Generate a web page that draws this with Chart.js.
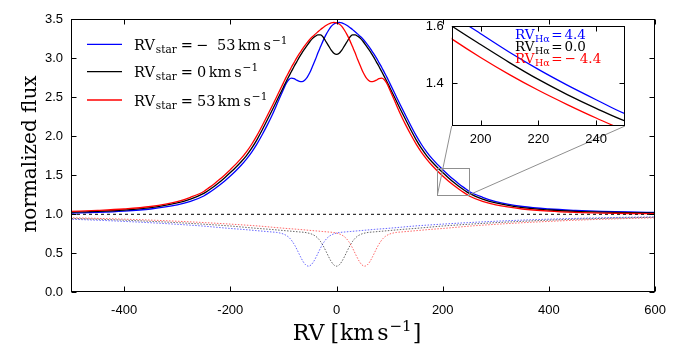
<!DOCTYPE html>
<html><head><meta charset="utf-8">
<script src="https://cdn.jsdelivr.net/npm/chart.js@4.4.1/dist/chart.umd.min.js"></script>
<style>
html,body{margin:0;padding:0;background:#fff;}
#wrap{position:relative;width:676px;height:353px;overflow:hidden;}
#main{position:absolute;left:0;top:0;}
#inset{position:absolute;left:415px;top:10px;}
</style></head><body>
<div id="wrap"><canvas id="main" width="676" height="353"></canvas><canvas id="inset" width="220" height="145"></canvas></div>
<script>
// ---------- DATA ----------
const rvGrid = [-500,-450,-400,-350,-300,-275,-250,-240,-230,-220,-210,-200,-190,-180,-170,-160,-150,-140,-130,-120,-110,
 -100,-95,-90,-85,-80,-75,-70,-65,-60,-55,-50,-45,-40,-35,-30,-25,-20,-15,-10,-5,0,5,10,15,20,25,30,35,40,45,50,55,60,65,70,75,80,85,90,95,100,
 110,120,130,140,150,160,170,180,190,200,210,220,230,240,250,275,300,350,400,450,500,550,600];

const fluxBlue = [1.015,1.024,1.04,1.068,1.12,1.165,1.235,1.278,1.325,1.375,1.43,1.49,1.555,1.625,1.705,1.795,1.90,2.02,2.15,2.29,2.445,
 2.60,2.675,2.725,2.745,2.74,2.72,2.705,2.70,2.72,2.76,2.82,2.90,2.98,3.07,3.15,3.23,3.30,3.36,3.41,3.44,3.455,3.46,3.455,3.44,3.42,3.395,3.37,3.34,3.31,3.28,3.245,3.205,3.16,3.11,3.06,3.005,2.945,2.885,2.82,2.755,2.685,
 2.545,2.405,2.27,2.135,2.008,1.895,1.797,1.713,1.64,1.573,1.508,1.448,1.393,1.342,1.293,1.218,1.162,1.10,1.068,1.05,1.038,1.03,1.024];

const fluxBlack = [1.028,1.038,1.055,1.085,1.145,1.195,1.268,1.312,1.36,1.413,1.472,1.535,1.60,1.67,1.75,1.845,1.955,2.08,2.215,2.35,2.49,
 2.63,2.70,2.765,2.83,2.895,2.955,3.015,3.07,3.12,3.17,3.215,3.255,3.283,3.30,3.30,3.27,3.215,3.16,3.105,3.065,3.05,3.065,3.105,3.16,3.215,3.27,3.30,3.30,3.283,3.255,3.215,3.17,3.12,3.07,3.015,2.955,2.895,2.83,2.765,2.70,2.63,
 2.49,2.35,2.215,2.08,1.955,1.845,1.75,1.67,1.60,1.535,1.472,1.413,1.36,1.312,1.268,1.195,1.145,1.085,1.055,1.038,1.028,1.021,1.017];

const fluxRed = [1.038,1.05,1.068,1.10,1.162,1.218,1.293,1.342,1.393,1.448,1.508,1.573,1.64,1.713,1.797,1.895,2.008,2.135,2.27,2.405,2.545,
 2.685,2.755,2.82,2.885,2.945,3.005,3.06,3.11,3.16,3.205,3.245,3.28,3.31,3.34,3.37,3.395,3.42,3.44,3.455,3.46,3.455,3.44,3.41,3.36,3.30,3.23,3.15,3.07,2.98,2.90,2.82,2.76,2.72,2.70,2.705,2.72,2.74,2.745,2.725,2.675,2.60,
 2.445,2.29,2.15,2.02,1.90,1.795,1.705,1.625,1.555,1.49,1.43,1.375,1.325,1.278,1.235,1.165,1.12,1.068,1.04,1.024,1.015,1.01,1.008];

// stellar absorption profile (velocity relative to the star)
const absRV = [-660,-600,-550,-500,-450,-400,-350,-300,-250,-225,-200,-175,-150,-125,-100,-90,-80,-70,-60,-55,-50,-45,-40,-35,-30,-25,-20,-15,-10,-5,0,
 5,10,15,20,25,30,35,40,45,50,55,60,70,80,90,100,125,150,175,200,225,250,300,350,400,450,500,550,600,660];
const absFlux = [0.968,0.962,0.955,0.947,0.937,0.925,0.91,0.893,0.873,0.862,0.85,0.835,0.82,0.807,0.792,0.786,0.78,0.774,0.768,0.762,0.754,0.741,0.722,0.693,0.65,0.595,0.528,0.458,0.395,0.351,0.335,
 0.351,0.395,0.458,0.528,0.595,0.65,0.693,0.722,0.741,0.754,0.762,0.768,0.774,0.78,0.786,0.792,0.807,0.82,0.835,0.85,0.862,0.873,0.893,0.91,0.925,0.937,0.947,0.955,0.962,0.968];

const rvStar = [-53, 0, 53];
const rvHalpha = [4.4, 0.0, -4.4];
const seriesColors = ['#0000ff', '#000000', '#ff0000'];
const dottedColors = ['rgba(0,0,255,0.6)', 'rgba(0,0,0,0.6)', 'rgba(255,0,0,0.6)'];
const continuumLevel = 1.0;

const xTicks = [-400,-200,0,200,400,600];
const yTicks = [0,0.5,1.0,1.5,2.0,2.5,3.0,3.5];
const xRange = [-500, 600];
const yRange = [0, 3.5];
const insetXRange = [190, 250];
const insetYRange = [1.25, 1.6];
const insetXTicks = [200, 220, 240];
const insetYTicks = [1.4, 1.6];

// ---------- helpers ----------
const fluxSeries = [fluxBlue, fluxBlack, fluxRed];
const SERIF = '"DejaVu Serif"';
const SANS = '"Liberation Sans"';
const MINUS = '\u2212';
function pts(xs, ys, shift) { return xs.map((v, i) => ({x: v + (shift || 0), y: ys[i]})); }
// draw a run of text pieces (size s, vertical shift dy, gap g before the piece)
function flow(ctx, x0, y0, parts, color, center) {
  ctx.save();
  ctx.fillStyle = color; ctx.textBaseline = 'alphabetic'; ctx.textAlign = 'left';
  let w = 0;
  parts.forEach(p => { ctx.font = p.s + 'px ' + SERIF; p.w = ctx.measureText(p.t).width; w += (p.g || 0) + p.w; });
  let x = center ? x0 - w / 2 : x0;
  parts.forEach(p => { x += (p.g || 0); ctx.font = p.s + 'px ' + SERIF; ctx.fillText(p.t, x, y0 + (p.dy || 0)); x += p.w; });
  ctx.restore();
}
function fmtSigned(v, digits) { const s = Math.abs(v).toFixed(digits); return v < 0 ? [MINUS, s] : [null, s]; }

// ---------- INSET ----------
const insetPlugin = {
  id: 'insetDecor',
  beforeDraw(chart) {
    const {ctx, chartArea: a} = chart;
    ctx.save(); ctx.fillStyle = '#fff'; ctx.fillRect(a.left, a.top, a.right - a.left, a.bottom - a.top); ctx.restore();
  },
  afterDraw(chart) {
    const {ctx, chartArea: a, scales: {x, y}} = chart;
    ctx.save();
    ctx.strokeStyle = '#000'; ctx.lineWidth = 1;
    const L = Math.round(a.left) + 0.5, R = Math.round(a.right) - 0.5, T = Math.round(a.top) + 0.5, B = Math.round(a.bottom) - 0.5;
    ctx.strokeRect(L, T, R - L, B - T);
    ctx.beginPath();
    insetXTicks.forEach(v => { const px = Math.round(x.getPixelForValue(v)) + 0.5; ctx.moveTo(px, B); ctx.lineTo(px, B - 5); ctx.moveTo(px, T); ctx.lineTo(px, T + 5); });
    insetYTicks.forEach(v => { const py = Math.round(y.getPixelForValue(v)) + 0.5; ctx.moveTo(L, py); ctx.lineTo(L + 5, py); ctx.moveTo(R, py); ctx.lineTo(R - 5, py); });
    ctx.stroke();
    ctx.restore();
    const bx = a.left + 63.3, base = [a.top + 13.3, a.top + 25, a.top + 36.7];
    rvHalpha.forEach((v, k) => {
      const [sg, num] = fmtSigned(v, 1);
      const parts = [{t:'RV', s:13.5}, {t:'H\u03b1', s:9.5, dy:3, g:0.5}, {t:'=', s:13.5, g:1.5}];
      if (sg) { parts.push({t:sg, s:13.5, g:2}); parts.push({t:num, s:13.5, g:4}); }
      else parts.push({t:num, s:13.5, g:2});
      flow(ctx, bx, base[k], parts, seriesColors[k]);
    });
  }
};

const insetChart = new Chart(document.getElementById('inset'), {
  type: 'line',
  data: { datasets: fluxSeries.map((f, k) => ({
    data: pts(rvGrid, f), borderColor: seriesColors[k], borderWidth: 1.3, pointRadius: 0,
    cubicInterpolationMode: 'monotone', fill: false, order: 3 - k }))},
  options: {
    responsive: false, animation: false, events: [],
    layout: { padding: { left: 0, right: 10, top: 16, bottom: 0 } },
    plugins: { legend: {display:false}, tooltip: {enabled:false} },
    scales: {
      x: { type: 'linear', min: insetXRange[0], max: insetXRange[1],
           afterFit(s) { s.height = 29; },
           afterBuildTicks(s) { s.ticks = insetXTicks.map(v => ({value: v})); },
           grid: {display:false, drawTicks:false, tickLength:0}, border: {display:false},
           ticks: {font: {family: SANS, size: 13}, color: '#000', padding: 6, maxRotation: 0, autoSkip: false, callback: v => String(v)} },
      y: { type: 'linear', min: insetYRange[0], max: insetYRange[1],
           afterFit(s) { s.width = 36.7; },
           afterBuildTicks(s) { s.ticks = insetYTicks.map(v => ({value: v})); },
           grid: {display:false, drawTicks:false, tickLength:0}, border: {display:false},
           ticks: {font: {family: SANS, size: 13}, color: '#000', padding: 8, autoSkip: false, callback: v => v.toFixed(1)} }
    }
  },
  plugins: [insetPlugin]
});

// ---------- MAIN ----------
const insetOffset = {x: 415, y: 10};
const mainPlugin = {
  id: 'mainDecor',
  afterDraw(chart) {
    const {ctx, chartArea: a, scales: {x, y}} = chart;
    ctx.save();
    ctx.strokeStyle = '#000'; ctx.lineWidth = 1;
    const L = Math.round(a.left) + 0.5, R = Math.round(a.right) - 0.5, T = Math.round(a.top) + 0.5, B = Math.round(a.bottom) - 0.5;
    ctx.strokeRect(L, T, R - L, B - T);
    ctx.beginPath();
    xTicks.forEach(v => { const px = Math.round(x.getPixelForValue(v)) + 0.5; ctx.moveTo(px, B); ctx.lineTo(px, B - 5); ctx.moveTo(px, T); ctx.lineTo(px, T + 5); });
    yTicks.forEach(v => { const py = Math.round(y.getPixelForValue(v)) + 0.5; ctx.moveTo(L, py); ctx.lineTo(L + 5, py); ctx.moveTo(R, py); ctx.lineTo(R - 5, py); });
    ctx.stroke();
    // zoom box + connectors
    const bx0 = x.getPixelForValue(insetXRange[0]), bx1 = x.getPixelForValue(insetXRange[1]);
    const by0 = y.getPixelForValue(insetYRange[0]), by1 = y.getPixelForValue(insetYRange[1]);
    ctx.strokeStyle = '#8f8f8f'; ctx.lineWidth = 1;
    ctx.strokeRect(Math.round(bx0) + 0.5, Math.round(by1) + 0.5, Math.round(bx1 - bx0), Math.round(by0 - by1));
    const ia = insetChart.chartArea;
    ctx.beginPath();
    ctx.moveTo(bx0, by0); ctx.lineTo(insetOffset.x + ia.left, insetOffset.y + ia.bottom);
    ctx.moveTo(bx1, by0); ctx.lineTo(insetOffset.x + ia.right, insetOffset.y + ia.bottom);
    ctx.stroke();
    // legend
    const lx0 = a.left + 16, lx1 = a.left + 51, tx = a.left + 63;
    const ly = [25, 52.4, 80.7], tb = [30.7, 58, 86.7];
    seriesColors.forEach((c, k) => {
      ctx.strokeStyle = c; ctx.lineWidth = 1.3; ctx.beginPath();
      ctx.moveTo(lx0, a.top + ly[k]); ctx.lineTo(lx1, a.top + ly[k]); ctx.stroke();
    });
    ctx.restore();
    rvStar.forEach((v, k) => {
      const parts = [{t:'RV', s:14.5}, {t:'star', s:10.5, dy:3, g:1}, {t:'=', s:14.5, g:4}];
      if (v < 0) { parts.push({t:MINUS, s:14.5, g:3}); parts.push({t:String(Math.abs(v)), s:14.5, g:9}); }
      else parts.push({t:String(v), s:14.5, g:4});
      parts.push({t:'km', s:14.5, g:2.5}, {t:'s', s:14.5, g:3}, {t:MINUS + '1', s:10.5, dy:-6.5, g:1});
      flow(ctx, tx, a.top + tb[k], parts, '#000');
    });
    // axis titles
    ctx.save();
    ctx.fillStyle = '#000';
    ctx.translate(36, 154); ctx.rotate(-Math.PI / 2);
    ctx.font = '20px ' + SERIF; ctx.textAlign = 'center'; ctx.textBaseline = 'alphabetic';
    ctx.fillText('normalized flux', 0, 0);
    ctx.restore();
    flow(ctx, 357, 340, [{t:'RV', s:22}, {t:'[', s:22, g:6}, {t:'km', s:22, g:1}, {t:'s', s:22, g:3},
      {t:MINUS + '1', s:15, dy:-9, g:1}, {t:']', s:22, g:1}], '#000', true);
  }
};

const mainDatasets = [];
fluxSeries.forEach((f, k) => mainDatasets.push({
  data: pts(rvGrid, f), borderColor: seriesColors[k], borderWidth: 1.3, pointRadius: 0,
  cubicInterpolationMode: 'monotone', fill: false, order: 10 - k }));
rvStar.forEach((s, k) => mainDatasets.push({
  data: pts(absRV, absFlux, s), borderColor: dottedColors[k], borderWidth: 1, borderDash: [1.5, 1.5],
  pointRadius: 0, cubicInterpolationMode: 'monotone', fill: false, order: 20 - k }));
mainDatasets.push({
  data: [{x: xRange[0], y: continuumLevel}, {x: xRange[1], y: continuumLevel}],
  borderColor: '#000', borderWidth: 1, borderDash: [3, 3], pointRadius: 0, fill: false, order: 5 });

new Chart(document.getElementById('main'), {
  type: 'line',
  data: { datasets: mainDatasets },
  options: {
    responsive: false, animation: false, events: [],
    layout: { padding: { left: 0, right: 19.5, top: 19.3, bottom: 0 } },
    plugins: { legend: {display:false}, tooltip: {enabled:false} },
    scales: {
      x: { type: 'linear', min: xRange[0], max: xRange[1],
           afterFit(s) { s.height = 60.7; },
           afterBuildTicks(s) { s.ticks = xTicks.map(v => ({value: v})); },
           grid: {display:false, drawTicks:false, tickLength:0}, border: {display:false},
           ticks: {font: {family: SANS, size: 13}, color: '#000', padding: 10, maxRotation: 0, autoSkip: false, callback: v => String(v)} },
      y: { type: 'linear', min: yRange[0], max: yRange[1],
           afterFit(s) { s.width = 71; },
           afterBuildTicks(s) { s.ticks = yTicks.map(v => ({value: v})); },
           grid: {display:false, drawTicks:false, tickLength:0}, border: {display:false},
           ticks: {font: {family: SANS, size: 13}, color: '#000', padding: 8, autoSkip: false, callback: v => v.toFixed(1)} }
    }
  },
  plugins: [mainPlugin]
});
</script>
</body></html>
